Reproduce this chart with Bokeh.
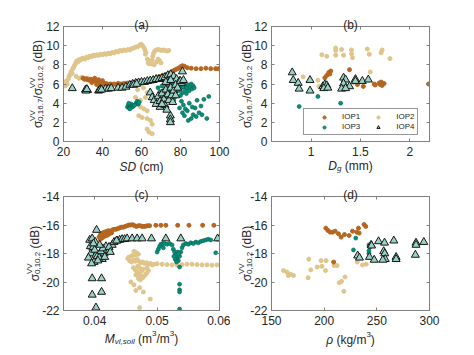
from bokeh.plotting import figure
from bokeh.models import Label, LinearAxis, FixedTicker, Legend, LegendItem, Range1d, GridBox
from bokeh.layouts import column, row
from bokeh.embed import file_html
from bokeh.resources import INLINE
import math

# ---------------- data ----------------
# panel (a): SD (cm) vs ratio (dB)
a1_x = [30.0,30.8,31.6,32.4,33.2,34.0,34.8,35.6,36.4,37.2,38.0,38.8,39.6,40.4,41.2,42.0,43.0,44.0,45.0,46.0,47.0,48.0,49.0,50.0,51.0,52.0,53.0,54.0,55.0,56.0,57.0,58.0,59.0,60.0,61.0,62.0,63.0,64.0,65.0,66.0,67.0,68.0,69.0,70.0,71.0,72.0,73.0,74.0,75.0,76.0,77.0,78.0,79.0,80.0,81.0,82.0,83.5,85.5,88.0,90.5,93.0,95.5,98.0,99.5,36.0,38.0,40.0,34.5,37.0]
a1_y = [6.6,6.5,6.55,6.45,6.4,6.5,6.35,6.4,6.3,6.2,6.1,6.05,6.0,6.1,5.95,6.05,5.9,6.0,5.95,6.0,5.95,6.05,6.0,6.0,6.05,6.0,6.1,6.05,6.1,6.15,6.1,6.2,6.15,6.25,6.2,6.3,6.3,6.35,6.4,6.5,6.6,6.7,6.75,6.8,6.9,6.95,7.0,7.1,7.2,7.35,7.45,7.55,7.65,7.8,7.9,7.85,7.7,7.65,7.6,7.6,7.65,7.6,7.6,7.6,6.6,6.45,6.35,6.15,5.95]
a2_x = [20.2,20.6,21.0,21.4,21.9,22.4,22.9,23.4,23.9,24.4,24.8,25.3,25.8,26.3,26.8,27.4,28.0,28.7,29.4,30.2,31.0,31.8,32.6,33.4,34.3,35.2,36.1,37.0,38.0,39.0,40.0,41.0,42.0,43.0,44.0,45.0,46.0,47.0,48.0,49.0,50.0,51.0,52.0,53.0,54.0,55.0,56.0,57.0,58.0,59.0,59.8,60.5,61.2,61.8,62.3,62.0,63.0,63.4,
        26.5,28.0,29.5,31.0,32.5,34.0,35.5,37.0,40.0,44.0,48.0,52.0,
        65.2,65.5,65.8,66.2,66.8,67.6,68.5,69.4,70.3,71.2,72.1,73.0,74.0,67.8,68.5,69.2,70.0,66.5,64.0,63.8,
        56.9,59.5,61.2,62.9,58.6,60.3,62.9,64.6,65.5,62.9,63.8,65.5,59.5,62.0,62.9,58.0,61.0]
a2_y = [5.9,6.1,5.8,6.3,6.0,6.5,6.8,7.0,7.3,7.1,7.6,7.8,8.0,8.2,8.4,8.3,8.55,8.5,8.65,8.7,8.6,8.8,8.75,8.9,8.85,9.0,8.95,9.05,9.0,9.1,9.05,9.15,9.1,9.2,9.15,9.3,9.25,9.4,9.35,9.5,9.45,9.55,9.5,9.6,9.55,9.7,9.75,9.85,9.9,10.05,10.15,10.0,9.8,9.55,9.3,9.1,8.6,8.2,
        6.8,6.6,6.7,6.5,6.6,6.45,6.3,6.2,6.1,6.0,6.05,6.1,
        8.1,8.5,8.9,9.2,9.45,9.55,9.6,9.55,9.5,9.55,9.5,9.45,9.5,8.3,8.6,8.45,8.2,8.0,8.1,8.45,
        4.6,3.6,3.4,3.2,2.7,2.5,2.4,2.2,1.8,1.3,1.0,0.8,4.3,4.6,5.1,5.4,5.6]
a3_x = [52.8,53.3,53.8,54.3,54.8,55.3,55.8,57.2,57.8,58.3,58.8,53.5,54.0,56.5,
        68.5,69.5,70.5,71.0,72.0,72.5,73.0,73.5,74.0,74.5,75.0,75.5,76.0,76.5,77.0,77.5,78.0,78.5,79.0,79.5,80.0,80.5,81.0,81.5,82.0,82.5,83.0,83.5,84.0,84.5,85.0,85.5,86.0,86.5,87.0,71.5,76.5,80.0,83.0,
        80.5,81.5,82.5,81.0,83.5,82.0,84.0,85.5,86.5,87.5,88.5,89.5,90.5,92.0,93.5,94.5,84.5,86.0,88.0,79.5,91.0]
a3_y = [3.6,3.8,3.5,3.7,3.9,3.6,3.7,4.0,4.2,3.9,4.1,4.0,3.4,3.8,
        5.6,5.2,5.8,4.9,5.5,6.0,5.1,4.6,5.7,5.3,6.1,4.9,5.5,5.9,5.2,4.7,5.6,6.0,5.3,5.8,5.5,5.9,5.1,5.7,6.0,5.4,5.8,5.6,5.9,5.3,5.7,6.0,5.5,5.8,5.6,4.4,4.3,4.8,5.0,
        4.2,3.8,3.4,3.0,3.2,2.7,2.2,2.4,2.8,3.5,4.3,3.0,3.7,4.4,2.4,4.7,4.0,3.6,2.6,3.5,2.8]
a4_x = [24.5,31.3,32.3,38.0,39.0,41.5,43.0,44.5,48.0,50.0,52.0,54.0,55.5,57.0,58.5,60.0,61.5,63.0,64.5,66.0,67.5,69.0,70.5,72.0,73.5,75.0,76.5,78.0,79.5,81.0,80.5,72.5,75.0,
        64.5,65.5,66.5,67.5,68.5,69.5,69.5,70.5,71.5,72.0,72.5,73.5,74.0,75.0,75.5,76.5,77.5,78.5,74.8,74.8,74.8,73.0,70.5,76.0,77.5,
        31.5,32.0,38.5,39.5,56.0,57.5,80.0,81.5]
a4_y = [5.55,5.4,5.35,5.3,5.45,5.5,5.5,5.55,5.6,5.6,5.7,5.9,6.0,6.1,6.15,6.2,6.2,6.3,6.35,6.4,6.5,6.5,6.6,6.7,6.9,7.0,6.8,6.5,6.3,7.3,6.1,6.2,6.4,
        5.1,4.6,4.3,3.9,4.7,4.2,3.6,5.0,4.4,3.8,5.4,4.9,4.3,5.6,4.8,5.3,5.9,5.6,2.7,2.3,2.0,3.3,3.9,4.1,4.8,
        5.3,5.45,5.35,5.4,5.9,6.0,6.3,6.4]

# panel (b): Dg (mm) vs ratio (dB)
b1_x = [1.16,1.18,1.19,1.20,1.14,1.39,1.43,1.47,1.53,1.64,1.65,1.69,1.70,1.71,1.72,1.74,2.19]
b1_y = [6.9,7.2,7.05,7.35,6.65,7.5,6.2,5.95,5.75,6.0,5.9,6.1,5.95,6.2,5.85,6.05,6.0]
b2_x = [0.92,1.07,1.08,1.11,1.16,1.25,1.25,1.25,1.31,1.33,1.41,1.41,1.42,1.57,1.59,1.60,1.71,1.72,1.80]
b2_y = [6.75,6.4,5.75,9.05,8.9,9.75,9.5,9.0,9.6,9.0,9.55,9.15,8.75,9.65,9.1,7.25,9.25,9.55,8.65]
b3_x = [0.88,1.07,1.30,1.14]
b3_y = [3.65,4.7,4.0,5.7]
b4_x = [0.81,0.82,0.87,0.88,0.99,0.99,1.12,1.14,1.16,1.13,1.17,1.33,1.35,1.33,1.31,1.39,1.45,1.45,1.52,1.58,1.35]
b4_y = [7.2,6.4,6.1,5.5,6.4,5.3,5.75,5.95,5.85,5.55,5.6,6.65,6.45,6.05,5.5,5.75,6.5,6.3,6.3,6.45,5.55]

# panel (c): Mvl,soil vs sigma (dB)
c1_x = [0.0407,0.0409,0.0411,0.0413,0.0416,0.0419,0.0422,0.0425,0.0428,0.0431,0.0434,0.0437,0.0440,0.0443,0.0446,0.0449,0.0452,0.0455,0.0458,0.0461,0.0464,0.0467,0.0470,0.0473,0.0476,0.0479,0.0482,0.0485,0.0488,
        0.0409,0.0412,0.0415,0.0418,0.0421,0.0424,0.0427,
        0.0498,0.0506,0.0514,0.0533,0.0551,0.0573,0.0591]
c1_y = [-16.85,-16.7,-16.6,-16.55,-16.5,-16.45,-16.4,-16.45,-16.35,-16.3,-16.3,-16.25,-16.2,-16.15,-16.15,-16.1,-16.05,-16.0,-16.0,-15.98,-16.05,-16.1,-16.05,-16.05,-16.1,-16.1,-16.08,-16.05,-16.05,
        -17.0,-16.9,-16.8,-16.75,-16.7,-16.6,-16.55,
        -16.02,-16.02,-16.02,-16.02,-16.02,-16.02,-16.02]
c2_x = [0.0463,0.0467,0.0470,0.0465,0.0460,
        0.0455,0.0453,0.0456,0.0459,0.0462,0.0465,0.0468,
        0.0471,0.0474,0.0477,0.0480,0.0483,0.0486,0.0489,0.0492,0.0495,
        0.0462,0.0465,0.0468,0.0471,0.0474,0.0477,0.0480,0.0483,0.0486,0.0484,0.0478,0.0472,0.0469,0.0475,0.0466,0.0470,0.0473,
        0.0500,0.0508,0.0516,0.0524,0.0532,0.0540,0.0548,0.0556,0.0564,0.0572,0.0580,0.0588,0.0596,
        0.0463,0.0466,0.0472,0.0478,0.0489,0.0472,0.0458]
c2_y = [-17.85,-17.95,-18.05,-18.1,-18.15,
        -18.25,-18.35,-18.5,-18.6,-18.45,-18.55,-18.4,
        -18.55,-18.65,-18.6,-18.7,-18.65,-18.75,-18.7,-18.8,-18.75,
        -19.0,-19.15,-19.3,-19.45,-19.6,-19.7,-19.55,-19.4,-19.2,-19.0,-19.1,-19.0,-18.9,-19.25,-19.5,-19.75,-19.85,
        -18.72,-18.75,-18.78,-18.8,-18.82,-18.78,-18.75,-18.75,-18.78,-18.8,-18.8,-18.82,-18.8,
        -20.2,-20.6,-20.4,-20.7,-21.2,-21.8,-20.0]
c3_x = [0.0500,0.0502,0.0504,0.0506,0.0509,0.0512,0.0516,0.0520,0.0524,0.0526,0.0528,0.0530,0.0532,0.0534,0.0536,0.0538,0.0540,0.0542,0.0546,0.0550,0.0554,0.0558,0.0562,0.0566,0.0570,0.0574,0.0578,0.0582,0.0586,0.0597,0.0510,0.0529,0.0533,0.0527,0.0531,0.0535,
        0.0536,0.0536,0.0536,0.0536,0.0536,0.0594]
c3_y = [-17.9,-17.7,-17.5,-17.35,-17.3,-17.3,-17.35,-17.3,-17.4,-17.7,-17.9,-18.1,-18.3,-18.5,-18.2,-17.9,-17.6,-17.4,-17.3,-17.35,-17.25,-17.3,-17.2,-17.25,-17.15,-17.1,-17.05,-17.0,-17.05,-17.0,-17.6,-18.4,-17.9,-18.2,-18.6,-18.0,
        -18.95,-20.15,-20.55,-20.7,-21.9,-17.95]
c4_x = [0.0403,0.0392,0.0396,0.0401,0.0393,0.0397,0.0394,0.0402,0.0399,0.0404,0.0412,0.0415,0.0420,0.0418,0.0428,0.0431,0.0436,0.0440,0.0444,0.0448,
        0.0452,0.0460,0.0468,0.0476,0.0491,0.0514,0.0538,0.0597,
        0.0400,0.0410,0.0407,0.0413,0.0423,0.0425,0.0408,0.0435,0.0405,0.0416,0.0390,0.0395,0.0398,
        0.0396,0.0411,0.0411,0.0396,0.0402]
c4_y = [-16.35,-17.05,-16.95,-17.2,-17.5,-17.6,-18.0,-18.1,-18.6,-18.2,-18.4,-18.0,-17.75,-17.5,-17.4,-17.2,-17.1,-17.05,-17.0,-17.0,
        -16.95,-16.95,-16.95,-16.95,-16.95,-16.95,-16.95,-16.95,
        -17.75,-17.85,-18.3,-17.65,-17.55,-17.9,-17.4,-17.1,-18.5,-18.25,-18.3,-18.7,-17.3,
        -19.75,-19.75,-20.7,-20.9,-21.8]

# panel (d): rho (kg/m3) vs sigma (dB)
d1_x = [201.6,203.5,205.7,207.9,210.4,213.6,216.1,219.3,223.7,226.9,231.0,232.6,233.2,237.9,239.5,209.0]
d1_y = [-16.22,-16.38,-16.5,-16.5,-16.43,-16.62,-16.85,-16.67,-16.74,-16.43,-16.5,-16.22,-16.57,-15.97,-16.1,-18.6]
d2_x = [161.4,164.6,166.1,170.9,168.0,185.4,187.3,184.8,193.4,197.1,197.8,201.9,201.3,209.5,212.3,216.5,219.7,218.7,214.3,231.4,240.0,236.4]
d2_y = [-19.2,-19.3,-19.55,-19.55,-19.45,-18.4,-19.15,-19.7,-18.95,-18.5,-18.9,-18.5,-19.2,-18.85,-18.85,-19.95,-19.65,-20.65,-20.05,-18.6,-18.75,-18.8]
d3_x = [230.0,227.8,242.5,242.5,242.5,243.5]
d3_y = [-16.92,-17.75,-17.4,-17.8,-18.0,-17.55]
d4_x = [231.8,233.5,243.0,244.5,247.5,251.6,257.3,256.5,257.5,258.0,255.7,266.1,268.3,268.3,287.2,287.2,286.6,294.6,245.0]
d4_y = [-18.15,-18.3,-18.25,-17.4,-18.45,-17.15,-17.25,-17.85,-18.0,-18.4,-18.45,-17.1,-18.25,-18.4,-17.25,-17.4,-18.1,-17.2,-17.45]

# ticks
a_xticks = [20, 40, 60, 80, 100]
a_xlabels = ["20", "40", "60", "80", "100"]
ab_yticks = [0, 2, 4, 6, 8, 10, 12]
ab_ylabels = ["0", "2", "4", "6", "8", "10", "12"]
b_xticks = [1, 1.5, 2]
b_xlabels = ["1", "1.5", "2"]
c_xticks = [0.04, 0.05, 0.06]
c_xlabels = ["0.04", "0.05", "0.06"]
cd_yticks = [-22, -20, -18, -16, -14]
cd_ylabels = ["-22", "-20", "-18", "-16", "-14"]
d_xticks = [150, 200, 250, 300]
d_xlabels = ["150", "200", "250", "300"]
series_names = ["IOP1", "IOP2", "IOP3", "IOP4"]

# ---------------- style ----------------
FONT = "Liberation Sans"
TXT = "#262626"
FRAME = "#808080"
C1 = "#b5661f"
C2 = "#dfc58a"
C3 = "#00937c"
C3E = "#0a5c4e"
C4F = "#98d2c4"
C4E = "#151515"

PAGE_W, PAGE_H = 474, 355
TOP_H, BOT_H = 177, 178
LW, RW = 230, 244

WID = {' ': .278, '(': .333, ')': .333, '/': .278, ',': .278, '.': .278, '-': .333,
       'S': .667, 'D': .722, 'B': .667, 'V': .667, 'M': .833, 'c': .5, 'm': .833, 'g': .556,
       'k': .5, 'l': .222, 'v': .5, 'i': .222, 's': .5, 'o': .556, 'd': .556, 'a': .556, 'b': .556,
       'σ': .6, 'ρ': .58}


def tw(s, size):
    return sum(WID.get(ch, .556) for ch in s) * size


# transparent overlay figure covering the whole page, used for the composed texts
ov = figure(width=PAGE_W, height=PAGE_H, min_border=0, x_axis_type=None, y_axis_type=None,
            x_range=Range1d(0, PAGE_W), y_range=Range1d(0, PAGE_H),
            output_backend="svg", toolbar_location=None, tools="")
ov.outline_line_color = None
ov.background_fill_alpha = 0
ov.border_fill_alpha = 0
ov.xgrid.visible = False
ov.ygrid.visible = False


def lab(x, ytop, text, size, italic=False, angle=0.0):
    ov.add_layout(Label(x=x, y=PAGE_H - ytop, x_units="screen", y_units="screen", text=text,
                        text_font=FONT, text_font_size=f"{size}px",
                        text_font_style="italic" if italic else "normal",
                        text_color=TXT, text_align="left", text_baseline="alphabetic",
                        angle=angle))


def groups_len(groups):
    return sum(max(tw(t, s) for t, s, _, _ in g) for g in groups)


def lead(t, s):
    # width of leading spaces (SVG collapses them), and the stripped text
    n = len(t) - len(t.lstrip(" "))
    return n * WID[' '] * s, t.lstrip(" ")


def hlabel(groups, cx, ybase):
    x = cx - groups_len(groups) / 2
    for g in groups:
        for t, s, it, dy in g:
            off, txt = lead(t, s)
            lab(x + off, ybase - dy, txt, s, it)
        x += max(tw(t, s) for t, s, _, _ in g)


def vlabel(groups, bx, cy):
    # text runs upward; cy is the centre (top-based page coordinate)
    y = cy + groups_len(groups) / 2
    for g in groups:
        for t, s, it, dy in g:
            off, txt = lead(t, s)
            lab(bx - dy, y - off, txt, s, it, angle=math.pi / 2)
        y -= max(tw(t, s) for t, s, _, _ in g)


def make_fig(width, height, bl, br, bt, bb, xr, yr, xt, xl, yt, yl):
    p = figure(width=width, height=height, min_border_left=bl, min_border_right=br,
               min_border_top=bt, min_border_bottom=bb,
               x_range=Range1d(*xr), y_range=Range1d(*yr),
               output_backend="svg", toolbar_location=None, tools="")
    p.background_fill_color = "white"
    p.border_fill_color = "white"
    p.outline_line_color = FRAME
    p.outline_line_width = 1
    p.xgrid.visible = False
    p.ygrid.visible = False
    for ax, ticks, labels in ((p.xaxis[0], xt, xl), (p.yaxis[0], yt, yl)):
        ax.ticker = FixedTicker(ticks=ticks)
        ax.major_label_overrides = {t: s for t, s in zip(ticks, labels)}
        ax.major_label_text_font = FONT
        ax.major_label_text_font_size = "12px"
        ax.major_label_text_color = TXT
        ax.axis_line_color = FRAME
        ax.major_tick_line_color = FRAME
        ax.major_tick_in = 3
        ax.major_tick_out = 0
        ax.minor_tick_line_color = None
        ax.major_label_standoff = 5
    p.yaxis[0].major_label_standoff = 4
    for loc, ticks in (("above", xt), ("right", yt)):
        ax = LinearAxis(ticker=FixedTicker(ticks=ticks),
                        major_label_overrides={t: "" for t in ticks},
                        axis_line_color=FRAME, major_tick_line_color=FRAME,
                        major_tick_in=3, major_tick_out=0, minor_tick_line_color=None,
                        major_label_standoff=0)
        p.add_layout(ax, loc)
    return p


def draw(p, s1, s2, s3, s4):
    r2 = p.scatter(s2[0], s2[1], marker="circle", size=4, fill_color=C2, line_color=C2)
    r1 = p.scatter(s1[0], s1[1], marker="circle", size=4, fill_color=C1, line_color=C1)
    r3 = p.scatter(s3[0], s3[1], marker="circle", size=4, fill_color=C3, line_color=C3E, line_width=0.6)
    r4 = p.scatter(s4[0], s4[1], marker="triangle", size=8, fill_color=C4F, line_color=C4E, line_width=1)
    return r1, r2, r3, r4


pa = make_fig(LW, TOP_H, 63, 11, 26, 36, (20, 100), (0, 12), a_xticks, a_xlabels, ab_yticks, ab_ylabels)
pb = make_fig(RW, TOP_H, 41, 45, 26, 36, (0.6, 2.2), (0, 12), b_xticks, b_xlabels, ab_yticks, ab_ylabels)
pc = make_fig(LW, BOT_H, 63, 11, 19, 45, (0.035, 0.06), (-22, -14), c_xticks, c_xlabels, cd_yticks, cd_ylabels)
pd = make_fig(RW, BOT_H, 41, 45, 19, 45, (150, 300), (-22, -14), d_xticks, d_xlabels, cd_yticks, cd_ylabels)

draw(pa, (a1_x, a1_y), (a2_x, a2_y), (a3_x, a3_y), (a4_x, a4_y))
rb = draw(pb, (b1_x, b1_y), (b2_x, b2_y), (b3_x, b3_y), (b4_x, b4_y))
draw(pc, (c1_x, c1_y), (c2_x, c2_y), (c3_x, c3_y), (c4_x, c4_y))
draw(pd, (d1_x, d1_y), (d2_x, d2_y), (d3_x, d3_y), (d4_x, d4_y))

# legend in (b)
order = [0, 2, 1, 3]
legend = Legend(items=[LegendItem(label=series_names[i], renderers=[rb[i]]) for i in order],
                location=(32, 6), ncols=2, orientation="vertical",
                glyph_width=34, glyph_height=8, label_height=8, label_width=18,
                label_standoff=1, spacing=1, padding=3, margin=0,
                label_text_font=FONT, label_text_font_size="8px", label_text_color=TXT,
                border_line_color="#303030", border_line_width=1.3,
                background_fill_color="white", background_fill_alpha=1.0)
pb.add_layout(legend)

# frame geometry on the page
AX_L, AX_R = 63, 219
BX_L, BX_R = 271, 429
TOP_T, TOP_B = 26, 141
BOT_T, BOT_B = 196, 310
cxa, cxb = (AX_L + AX_R) / 2, (BX_L + BX_R) / 2
cyt, cyb = (TOP_T + TOP_B) / 2, (BOT_T + BOT_B) / 2

# panel titles
hlabel([[("(a)", 12, False, 0)]], cxa, TOP_T - 2)
hlabel([[("(b)", 12, False, 0)]], cxb, TOP_T - 1.5)
hlabel([[("(c)", 12, False, 0)]], cxa, BOT_T - 2)
hlabel([[("(d)", 12, False, 0)]], cxb, BOT_T - 2)

# x axis labels
hlabel([[("SD", 12, True, 0)], [(" (cm)", 12, False, 0)]], cxa, TOP_B + 25)
hlabel([[("D", 12, True, 0)], [("g", 8, True, -3)], [(" (mm)", 12, False, 0)]], cxb, TOP_B + 24)
hlabel([[("M", 12, True, 0)], [("vl,soil", 8, True, -3)], [(" (m", 12, False, 0)], [("3", 8, False, 5)],
        [("/m", 12, False, 0)], [("3", 8, False, 5)], [(")", 12, False, 0)]], cxa, BOT_B + 28)
hlabel([[("ρ", 12, True, 0)], [(" (kg/m", 12, False, 0)], [("3", 8, False, 5)], [(")", 12, False, 0)]], cxb, BOT_B + 29)

# y axis labels
ratio = [[("σ", 12, False, 0)], [("VV", 8, False, 5.5), ("0,16.7", 8, False, -3)],
         [("/σ", 12, False, 0)], [("VV", 8, False, 5.5), ("0,10.2", 8, False, -3)],
         [(" (dB)", 12, False, 0)]]
single = [[("σ", 12, False, 0)], [("VV", 8, False, 5.5), ("0,10.2", 8, False, -3)],
          [(" (dB)", 12, False, 0)]]
vlabel(ratio, AX_L - 26, cyt)
vlabel(ratio, BX_L - 25, cyt)
vlabel(single, AX_L - 29, cyb)
vlabel(single, BX_L - 25, cyb)

panels = column(row(pa, pb), row(pc, pd))
layout = GridBox(children=[(panels, 0, 0), (ov, 0, 0)])
open("out.html", "w").write(file_html(layout, INLINE))
